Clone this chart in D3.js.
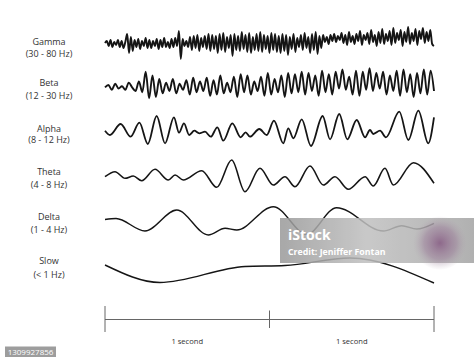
<!DOCTYPE html>
<html>
<head>
<meta charset="utf-8">
<script src="https://cdn.jsdelivr.net/npm/d3@7"></script>
<style>
  body { margin: 0; background: #fff; }
  svg { display: block; }
</style>
</head>
<body>
<div id="container"></div>
<script>
let width = 474;
let height = 362;

// band names and frequency ranges
let bands = ["Gamma", "Beta", "Alpha", "Theta", "Delta", "Slow"];
let ranges = ["(30 - 80 Hz)", "(12 - 30 Hz)", "(8 - 12 Hz)", "(4 - 8 Hz)", "(1 - 4 Hz)", "(< 1 Hz)"];

// gamma and beta: successive peaks / troughs, evenly spaced over the 2 s
let gamma = [1, 3, -2, 4, -3, 2, -1, 4, -3, 3, -4, 2,
    10, -9, 7, -7,
    4, -3, 5, -5, 3, -2, 6, -4, 4, -4, 3, -2, 5, -5, 4, -3, 6, -3, 2, -4, 5, -3, 6, -2,
    13, -15, 5, -2,
    3, -3, 7, -6, 8, -4, 9, -7, 6, -3, 8, -5,
    10, -7, 9, -5, 8, -9, 10, -6, 11, -8, 7, -4, 9, -12, 10, -6, 8, -7, 12, -5, 9, -8, 11, -9, 7, -6, 10, -7, 12, -8, 9, -5, 8, -9, 11, -6, 10, -8,
    8, -9, 10, -7, 9, -11, 7, -5, 10, -8, 6, -3, 9, -6, 11, -4, 7, -9, 10, -6, 12, -10, 8, -4, 9, 2, 7, 0,
    9, 3, 10, 2, 8, 4, 11, 1, 9, -1, 12, 2, 8, 0, 10, 3, 13, -1, 9, 4, 11, 0, 14, 2, 9, -2, 12, 1, 15, 0,
    10, 3, 13, -1, 16, 1, 11, 4, 14, -2, 12, 2, 17, 0, 11, 3, 15, -1, 13, 5, 16, 1, 12, 3, 14, 0, -2];

let beta = [-2, 0, -4, 1, -3, -1, -4, 2, -2, -5,
    3, -6, 11, -11, 8, -10, 5, -7,
    2, -5, 5, -7, 1, -4, 4, -8, 6, -6, 3, -5,
    6, -9, 4, -8, 8, -7, 2, -6, 7, -10, 9, -6, 8, -8, 3, -5, 7, -9, 10, -8, 5, -6, 8, -10, 10, -7, 9, -6,
    11, -8, 10, -5, 8, -9, 12, -6, 9, -8, 11, -3, 13, -4, 7, -8, 12, -9, 11, -4, 14, -5, 10, -3,
    11, -8, 8, -5, 12, -9, 13, -6, 9, -10, 10, -7, 13, -8, 12, -5];

// slower bands: [time ms, amplitude]
let alpha = [[0, -0.7], [30, -5], [95, 6], [156, -6.7], [209, 7.3], [260, -14], [314, 14], [365, -13.3],
    [419, 12.7], [450, -2.7], [480, 6.7], [512, -5], [543, -0.7], [573, -3.3], [608, -1.7], [643, -6.7],
    [683, 2.7], [719, -10.7], [774, 6.7], [825, -7.3], [855, -2.3], [881, -6.7], [938, 1], [983, -5],
    [1027, 9.3], [1084, -13.3], [1114, 1.7], [1145, -8.3], [1196, 10.7], [1252, -16], [1323, 14], [1368, -9.3],
    [1424, 16], [1473, -9.3], [1530, 10], [1581, -7.3], [1611, 0], [1631, -4], [1672, -0.7], [1708, -7.3],
    [1789, 18.3], [1844, -10], [1905, 19.3], [1965, -13.3], [2000, 12.7]];

let theta = [[0, 0.3], [61, 5.3], [122, -1.3], [172, 1], [223, -3.7], [304, 7.7], [385, -3], [426, 2],
    [476, -3], [588, 6.3], [679, -10.3], [770, 17], [851, -14.7], [942, 8.7], [1023, -8], [1094, 0.3],
    [1155, -9.7], [1246, 11], [1327, -8], [1398, 0.3], [1479, -12.3], [1581, 0.3], [1631, -9], [1702, 8.7],
    [1753, -8], [1875, 14.3], [2000, -6.3]];

let delta = [[0, 2.5], [67, 3.5], [243, -9], [436, 12], [628, -13], [730, -6.3], [801, -8], [1023, 15.3],
    [1226, -12.3], [1408, 14.3], [1692, -9], [1804, -3.7], [1895, -7], [2000, -1.3]];

let slow = [[0, 5], [334, -12.5], [851, 3.5], [1094, 4.5], [1489, 12], [2000, -13]];

let timeTicks = [0, 1000, 2000];
let timeLabels = [[500, "1 second"], [1500, "1 second"]];

// layout
let rowCenters = [44, 85, 130, 177, 222, 270];
let rowGain = [1, 1.2, 1, 1, 1, 1];
let labelY = [[45, 56.5], [86, 99], [131.5, 143], [175, 187.5], [220, 233], [264, 277.5]];
let strokeW = [1.9, 1.9, 1.8, 1.6, 1.4, 1.4];

let svg = d3.select("#container")
    .append("svg")
    .attr("width", width)
    .attr("height", height);

let xTime = d3.scaleLinear().domain([0, 2000]).range([105, 434]);

let series = [gamma, beta, alpha, theta, delta, slow];

series.forEach((data, i) => {
    let g = 10 * rowGain[i];
    let y = d3.scaleLinear().domain([-10, 10]).range([rowCenters[i] + g, rowCenters[i] - g]);
    let line;
    if (typeof data[0] === "number") {
        let xIdx = d3.scaleLinear().domain([0, data.length - 1]).range([105, 434]);
        line = d3.line().x((d, j) => xIdx(j)).y(d => y(d)).curve(d3.curveMonotoneX);
    } else {
        line = d3.line().x(d => xTime(d[0])).y(d => y(d[1])).curve(d3.curveMonotoneX);
    }
    svg.append("path")
        .datum(data)
        .attr("d", line)
        .attr("fill", "none")
        .attr("stroke", "#151515")
        .attr("stroke-width", strokeW[i])
        .attr("stroke-linejoin", "round");
});

// labels on the left
let labels = svg.selectAll(".band")
    .data(bands)
    .enter()
    .append("g")
    .attr("class", "band");

labels.append("text")
    .attr("x", 49)
    .attr("y", (d, i) => labelY[i][0])
    .attr("text-anchor", "middle")
    .attr("font-family", "Open Sans, sans-serif")
    .attr("font-size", 9)
    .attr("fill", "#333")
    .text(d => d);

labels.append("text")
    .attr("x", 49)
    .attr("y", (d, i) => labelY[i][1])
    .attr("text-anchor", "middle")
    .attr("font-family", "Open Sans, sans-serif")
    .attr("font-size", 9)
    .attr("fill", "#333")
    .text((d, i) => ranges[i]);

// time bar
svg.append("line")
    .attr("x1", xTime(0)).attr("x2", xTime(2000))
    .attr("y1", 319.5).attr("y2", 319.5)
    .attr("stroke", "#666")
    .attr("stroke-width", 1);

svg.selectAll(".tick")
    .data(timeTicks)
    .enter()
    .append("line")
    .attr("x1", d => xTime(d)).attr("x2", d => xTime(d))
    .attr("y1", d => d == 1000 ? 310.5 : 306)
    .attr("y2", d => d == 1000 ? 328 : 332)
    .attr("stroke", "#666")
    .attr("stroke-width", 1);

svg.selectAll(".tlabel")
    .data(timeLabels)
    .enter()
    .append("text")
    .attr("x", d => xTime(d[0]))
    .attr("y", 344)
    .attr("text-anchor", "middle")
    .attr("font-family", "Open Sans, sans-serif")
    .attr("font-size", 7.6)
    .attr("fill", "#333")
    .text(d => d[1]);

// stock watermark
let defs = svg.append("defs");
let lg = defs.append("linearGradient").attr("id", "wmg");
lg.append("stop").attr("offset", "0%").attr("stop-color", "#9a9a9a");
lg.append("stop").attr("offset", "45%").attr("stop-color", "#c0c0c0");
lg.append("stop").attr("offset", "75%").attr("stop-color", "#b2b2b2");
lg.append("stop").attr("offset", "100%").attr("stop-color", "#a4a4a4");
let rg = defs.append("radialGradient").attr("id", "wmp");
rg.append("stop").attr("offset", "0%").attr("stop-color", "#73406f").attr("stop-opacity", 0.85);
rg.append("stop").attr("offset", "60%").attr("stop-color", "#8a6688").attr("stop-opacity", 0.5);
rg.append("stop").attr("offset", "100%").attr("stop-color", "#a898a6").attr("stop-opacity", 0);

let wm = svg.append("g").attr("opacity", 0.86);
wm.append("rect")
    .attr("x", 280).attr("y", 218)
    .attr("width", 194).attr("height", 45)
    .attr("fill", "url(#wmg)");
wm.append("circle")
    .attr("cx", 440).attr("cy", 243)
    .attr("r", 27)
    .attr("fill", "url(#wmp)");

svg.append("text")
    .attr("x", 288).attr("y", 240)
    .attr("font-family", "Open Sans, sans-serif")
    .attr("font-weight", "bold")
    .attr("font-size", 14)
    .attr("fill", "#fff")
    .text("iStock");

svg.append("text")
    .attr("x", 288).attr("y", 254.5)
    .attr("font-family", "Open Sans, sans-serif")
    .attr("font-weight", "bold")
    .attr("font-size", 8.8)
    .attr("fill", "#fff")
    .text("Credit: Jeniffer  Fontan");

// image id tag
svg.append("rect")
    .attr("x", 5).attr("y", 346.5)
    .attr("width", 51).attr("height", 10.5)
    .attr("fill", "#9d9d9d");

svg.append("text")
    .attr("x", 30.5).attr("y", 355)
    .attr("text-anchor", "middle")
    .attr("font-family", "Open Sans, sans-serif")
    .attr("font-size", 8)
    .attr("fill", "#fff")
    .text("1309927856");
</script>
</body>
</html>
